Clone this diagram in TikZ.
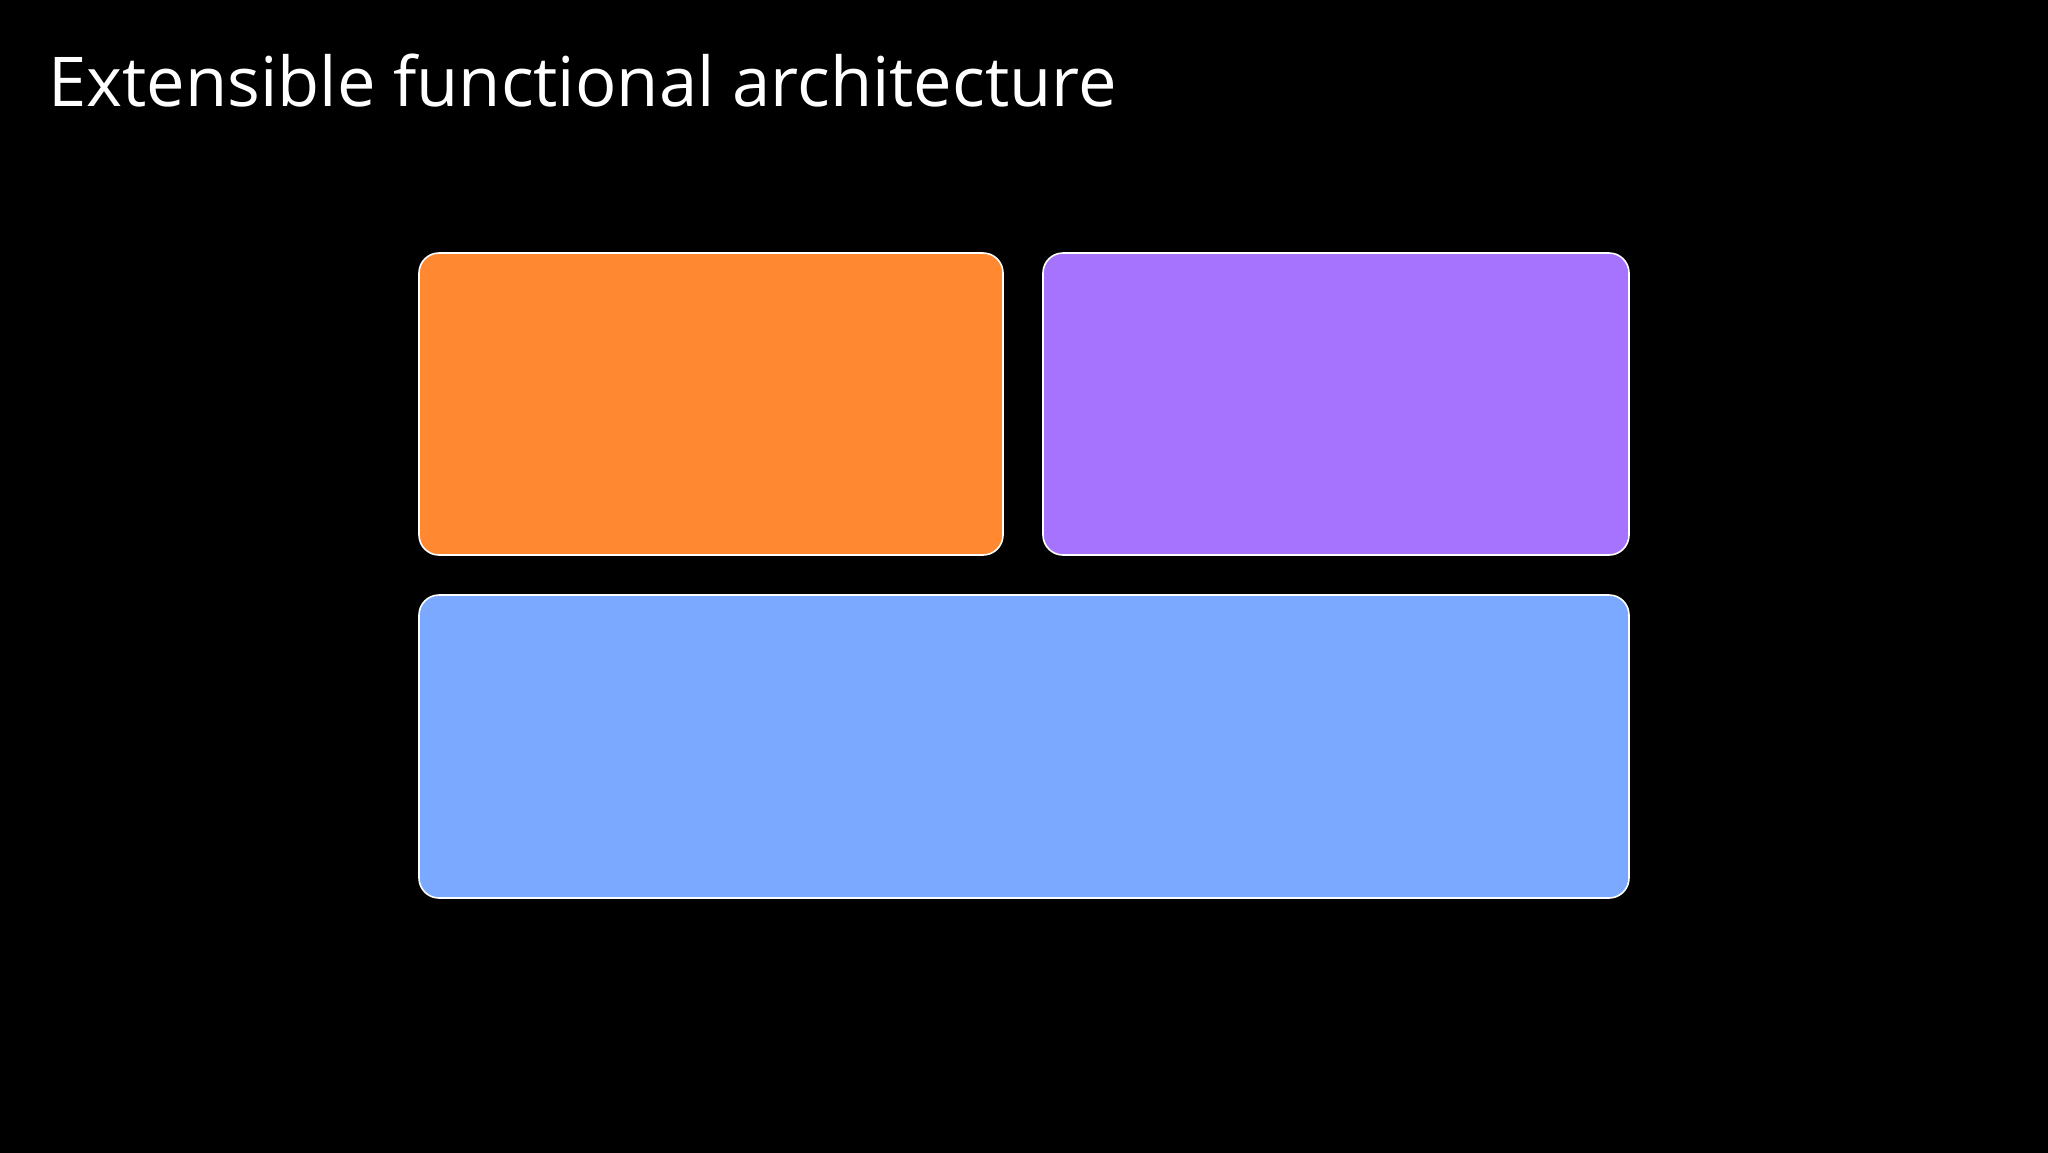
\documentclass[tikz,border=0pt]{standalone}
\usepackage{fontspec}
\setmainfont{Open Sans}
\definecolor{boxorange}{RGB}{255,136,48}
\definecolor{boxpurple}{RGB}{166,115,255}
\definecolor{boxblue}{RGB}{122,169,255}
\tikzset{
    block/.style={draw=white, line width=1.6pt, rounded corners=20pt, inner sep=0pt},
}
\begin{document}
\begin{tikzpicture}[x=1pt, y=-1pt]
        % Fondo
        \useasboundingbox (0,0) rectangle (2048,1152);
        \fill[black] (-4,-4) rectangle (2052,1156);

        % Titulo
        \node[anchor=base west, text=white, font=\fontsize{68.7}{82}\selectfont, inner sep=0pt] (title) at (48,106) {Extensible functional architecture};

        % Bloques
        \foreach \name/\x/\y/\w/\h/\col in {
            top-left/711/404/584/302/boxorange,
            top-right/1336/404/586/302/boxpurple,
            bottom/1024/746.5/1210/303/boxblue} {
            \node[block, fill=\col, minimum width=\w pt, minimum height=\h pt] (\name) at (\x,\y) {};
        }
    \end{tikzpicture}
\end{document}
